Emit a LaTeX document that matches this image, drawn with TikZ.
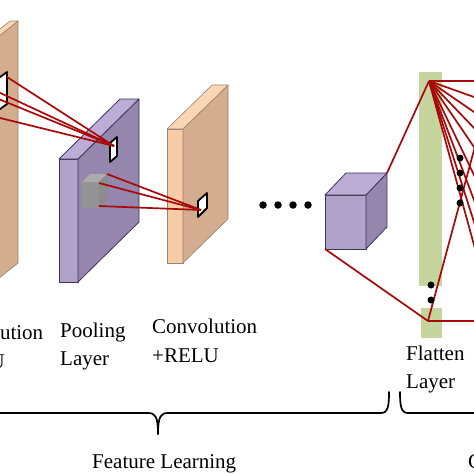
\documentclass[tikz,border=0pt]{standalone}
\usepackage{fontspec}
\setmainfont{Liberation Serif}
\usetikzlibrary{calc}
\definecolor{tanfront}{HTML}{F8CCA6}
\definecolor{tanside}{HTML}{D3AD8E}
\definecolor{tantop}{HTML}{FAD6B6}
\definecolor{tanedge}{HTML}{9A8070}
\definecolor{purfront}{HTML}{B1A2CA}
\definecolor{purside}{HTML}{9486AC}
\definecolor{purtop}{HTML}{BBADD5}
\definecolor{puredge}{HTML}{3E3556}
\definecolor{flatgreen}{HTML}{C6D59E}
\definecolor{linkred}{HTML}{A80808}
\begin{document}
\begin{tikzpicture}[x=1pt,y=-1pt,
  tanface/.style={draw=tanedge,line width=0.6pt,line join=round},
  purface/.style={draw=puredge,line width=0.8pt,line join=round},
  window/.style={draw=black,fill=white,line width=1.8pt,line join=round},
  link/.style={draw=linkred,line width=1.7pt},
  bigdot/.style={circle,fill=black,inner sep=0pt,minimum size=7.5pt},
  smalldot/.style={circle,fill=black,inner sep=0pt,minimum size=7pt},
  lbl/.style={font=\fontsize{21}{28}\selectfont,inner sep=0pt,anchor=base west},
  bracestyle/.style={draw=black,line width=1.7pt,line cap=round,line join=round}]
\useasboundingbox (0,0) rectangle (474,474);
\clip (0,0) rectangle (474,474);

% ---- left slab (input conv) ----
\filldraw[tanface,fill=tanfront] (-45,57) rectangle (-27,299);
\filldraw[tanface,fill=tanside] (-27,57) -- (18,21) -- (18,263) -- (-27,299) -- cycle;
\filldraw[tanface,fill=tantop] (-35,57) -- (-27,57) -- (18,21) -- (10,21) -- cycle;
\filldraw[window] (-4,80) -- (7,72) -- (7,104) -- (-4,112) -- cycle;

% ---- pooling slab ----
\filldraw[purface,fill=purfront] (59,159) rectangle (78,282);
\filldraw[purface,fill=purside] (78,159) -- (139,99) -- (139,222) -- (78,282) -- cycle;
\filldraw[purface,fill=purtop] (59,159) -- (78,159) -- (139,99) -- (120,99) -- cycle;
\filldraw[window] (110,143) -- (117,137) -- (117,156) -- (110,162) -- cycle;
% gray cube inside pooling slab
\fill[gray!85] (82,182) rectangle (99,208);
\fill[gray!65] (82,182) -- (99,182) -- (107,174) -- (90,174) -- cycle;
\fill[gray!110!black] (99,182) -- (107,174) -- (107,200) -- (99,208) -- cycle;

% ---- second conv slab ----
\filldraw[tanface,fill=tanfront] (167,129) rectangle (183,263);
\filldraw[tanface,fill=tanside] (183,129) -- (228,85) -- (228,219) -- (183,263) -- cycle;
\filldraw[tanface,fill=tantop] (167,129) -- (183,129) -- (228,85) -- (212,85) -- cycle;
\filldraw[window] (198,201) -- (207,193) -- (207,208) -- (198,217) -- cycle;

% ---- ellipsis dots ----
\node[bigdot] (d1) at (263,205) {};
\node[bigdot] (d2) at (278,205) {};
\node[bigdot] (d3) at (293,205) {};
\node[bigdot] (d4) at (308,205) {};

% ---- purple cube ----
\filldraw[purface,fill=purfront] (325,195) rectangle (366,249);
\filldraw[purface,fill=purside] (366,195) -- (387,173) -- (387,227) -- (366,249) -- cycle;
\filldraw[purface,fill=purtop] (325,195) -- (366,195) -- (387,173) -- (346,173) -- cycle;

% ---- flatten layer ----
\fill[flatgreen] (419,72) rectangle (442,286);
\fill[flatgreen] (421,308) rectangle (442,338);

% ---- coordinates ----
\coordinate (a1) at (7,77);
\coordinate (a2) at (-4,91);
\coordinate (a3) at (-4,98);
\coordinate (a4) at (-4,117);
\coordinate (pw) at (114,146);
\coordinate (c1) at (107,174);
\coordinate (c2) at (99,183);
\coordinate (c3) at (99,206);
\coordinate (tw) at (201,210);
\coordinate (cubeTR) at (387,173);
\coordinate (cubeBL) at (325,249);
\coordinate (ft) at (429,81);
\coordinate (fb) at (428,321);

% ---- links ----
\foreach \s in {a1,a2,a3,a4} \draw[link] (\s) -- (pw);
\foreach \s in {c1,c2,c3} \draw[link] (\s) -- (tw);
\draw[link] (cubeTR) -- (ft);
\draw[link] (cubeBL) -- (fb);
\foreach \y in {81,97,112,128,147} \draw[link] (ft) -- (480,{81+(\y-81)*51/45});
\foreach \y in {175,200,222,245} \draw[link] (ft) -- ($(ft)!1.2!(474,\y)$);
\draw[link] (fb) -- (480,321);
\draw[link] (fb) -- ($(fb)!1.1!(474,150)$);

% ---- dots in flatten region ----
\node[smalldot] (e1) at (431,285) {};
\node[smalldot] (e2) at (431,300) {};
\node[smalldot] (g1) at (460,158) {};
\node[smalldot] (g2) at (460,173) {};
\node[smalldot] (g3) at (460,188) {};
\node[smalldot] (g4) at (460,203) {};

% ---- labels ----
\node[lbl] (conv1a) at (-62,339) {Convolution};
\node[lbl] (conv1b) at (-62,368) {+RELU};
\node[lbl] (poolA) at (60,337) {Pooling};
\node[lbl] (poolB) at (60,365) {Layer};
\node[lbl] (conv2a) at (152,333) {Convolution};
\node[lbl] (conv2b) at (152,362) {+RELU};
\node[lbl] (flatA) at (406,360) {Flatten};
\node[lbl] (flatB) at (406,388) {Layer};
\node[lbl] (feat) at (92,468) {Feature Learning};
\node[lbl] (cls) at (468,468) {Classification};

% ---- braces ----
\draw[bracestyle] (389,392) .. controls (389,406) and (388,413) .. (381,413)
  -- (168,413) .. controls (161,413) and (158,416) .. (158,434);
\draw[bracestyle] (158,434) .. controls (158,416) and (155,413) .. (148,413) -- (-10,413);
\draw[bracestyle] (400,392) .. controls (400,406) and (401,413) .. (408,413) -- (480,413);
\end{tikzpicture}
\end{document}
